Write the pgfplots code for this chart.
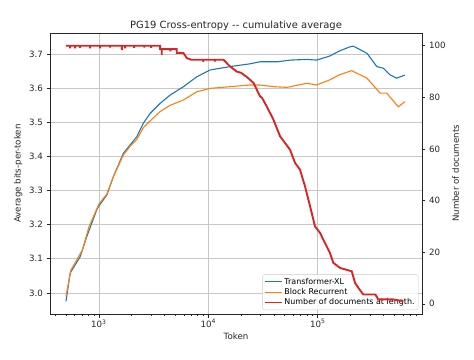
\documentclass[border=0pt]{standalone}
\usepackage{fontspec}
\setmainfont{DejaVu Sans}
\usepackage{pgfplots}
\pgfplotsset{compat=1.18}
\definecolor{tblue}{HTML}{1F77B4}
\definecolor{torange}{HTML}{FF7F0E}
\definecolor{tred}{HTML}{D62728}
\newcommand{\fs}{\fontsize{8.7}{10}\selectfont}
\newcommand{\fl}{\fontsize{8.0}{9.5}\selectfont}
\newcommand{\ft}{\fontsize{10}{12}\selectfont}
\begin{document}
\begin{tikzpicture}
\path[use as bounding box] (0bp,0bp) rectangle (474bp,360bp);
\begin{axis}[
  at={(50bp,46bp)}, anchor=south west,
  width=372bp, height=281bp, scale only axis,
  xmode=log, xmin=358, xmax=897000,
  ymin=2.938, ymax=3.7625,
  tick align=outside, major tick length=3.5bp, minor tick length=2bp,
  every tick/.style={black!85, line width=0.6bp},
  axis line style={black!85, line width=0.6bp},
  tick label style={font=\fs, text=black!85},
  every axis label/.append style={font=\fs, text=black!85},
  xticklabel style={yshift=1.5bp},
  xtick={1000,10000,100000},
  xticklabels={10\textsuperscript{3},10\textsuperscript{4},10\textsuperscript{5}},
  minor xtick={400,500,600,700,800,900,2000,3000,4000,5000,6000,7000,8000,9000,20000,30000,40000,50000,60000,70000,80000,90000,200000,300000,400000,500000,600000,700000,800000},
  xtick pos=bottom, ytick pos=left,
  ytick={3.0,3.1,3.2,3.3,3.4,3.5,3.6,3.7},
  yticklabel style={/pgf/number format/fixed, /pgf/number format/fixed zerofill, /pgf/number format/precision=1, /pgf/number format/assume math mode=true},
  xmajorgrids, ymajorgrids,
  major grid style={black!22, line width=0.6bp},
  xlabel={Token}, ylabel={Average bits-per-token},
  xlabel style={yshift=2bp},
  every axis title shift=0pt,
  title={PG19 Cross-entropy -{}- cumulative average},
  title style={font=\ft, text=black!85, at={(0.5,1)}, anchor=south, inner sep=2.5bp},
  legend style={at={(0.99,0.014)}, anchor=south east, draw=black!20,
    rounded corners=2bp, fill=white, fill opacity=0.8, text opacity=1,
    font=\fl, row sep=-1.2bp, inner sep=1.5bp},
  legend cell align=left,
  legend image code/.code={\draw[#1] (0bp,0bp) -- (17bp,0bp);},
]
\addplot[tblue, line width=1.1bp] coordinates {
(501,2.975) (547,3.058) (675,3.106) (776,3.165) (955,3.243) (1000,3.255)
(1183,3.287) (1358,3.341) (1679,3.41) (1932,3.434) (2223,3.458) (2553,3.498)
(2951,3.527) (3631,3.556) (4467,3.58) (5929,3.605) (7852,3.634) (10375,3.654)
(15849,3.664) (23988,3.672) (29512,3.678) (42658,3.678) (56234,3.683)
(79433,3.685) (97724,3.683) (128825,3.695) (158489,3.71) (197242,3.722)
(211349,3.724) (281838,3.703) (346737,3.664) (398107,3.659) (457088,3.64)
(524807,3.63) (626614,3.639)
};
\addlegendentry{Transformer-XL}
\addplot[torange, line width=1.1bp] coordinates {
(501,2.99) (556,3.067) (708,3.126) (813,3.194) (1000,3.26) (1183,3.29)
(1358,3.341) (1679,3.405) (1932,3.43) (2223,3.45) (2553,3.485) (2951,3.505)
(3631,3.532) (4467,3.55) (5929,3.566) (7852,3.59) (10375,3.600) (15849,3.605)
(23988,3.610) (29512,3.61) (39811,3.605) (52481,3.603) (79433,3.615)
(97724,3.61) (128825,3.625) (158489,3.64) (204174,3.652) (281838,3.63)
(371535,3.586) (426580,3.586) (544503,3.546) (626614,3.561)
};
\addlegendentry{Block Recurrent}
\addlegendimage{tred, line width=1.6bp}
\addlegendentry{Number of documents at length.}
\end{axis}
\begin{axis}[
  at={(50bp,46bp)}, anchor=south west,
  width=372bp, height=281bp, scale only axis,
  xmode=log, xmin=358, xmax=897000,
  ymin=-3.95, ymax=104.95,
  tick align=outside, major tick length=3.5bp, minor tick length=2bp,
  every tick/.style={black!85, line width=0.6bp},
  axis line style={black!85, line width=0.6bp},
  tick label style={font=\fs, text=black!85},
  every axis label/.append style={font=\fs, text=black!85},
  yticklabel style={/pgf/number format/assume math mode=true},
  axis x line=none, axis y line*=right,
  ytick={0,20,40,60,80,100},
  ylabel={Number of documents},
]
\addplot[tred, line width=1.9bp, sharp plot] coordinates {
(501,100) (547,100) (547,99) (547,100) (608,100) (608,99) (608,100)
(675,100) (675,99.2) (675,100) (832,100) (832,99) (832,100)
(1028,100) (1028,99) (1028,100) (1268,100) (1268,99.3) (1268,100)
(1622,100) (1622,98.3) (1622,100) (1738,100) (1738,99) (1738,100)
(2100,100) (2100,99.2) (2100,100) (2600,100) (2600,99.3) (2600,100)
(3000,100) (3000,99.2) (3000,100) (3631,100) (3631,98.7)
(3758,98.7) (3758,96.5) (3758,98.7) (4500,98.7) (4500,97.8) (4500,98.7)
(5152,98.7) (5152,97.2) (5929,97.2) (6368,95.2) (7000,94.6)
(9000,94.6) (9000,93.8) (9000,94.6) (11500,94.6) (11500,93.9) (11500,94.6)
(13740,94.6) (15810,92) (18200,90) (20000,89.5) (22490,87.9) (24100,86.8)
(26000,85.5) (27730,83) (29720,80.4) (31000,79.8) (34200,76.5) (39360,71.4)
(45290,64.9) (50000,62.5) (55850,59.7) (62090,54.6) (68870,52) (76560,45.5)
(85110,37.8) (94410,30.0) (104950,27.5) (116410,23.6) (129420,19.7)
(138680,15.9) (159960,13.9) (204640,12.6) (219280,8.1) (234960,6.2)
(260620,3.6) (336510,3.6) (357270,1.7) (489780,1.7) (605340,1.0)
};
\end{axis}
\end{tikzpicture}
\end{document}
